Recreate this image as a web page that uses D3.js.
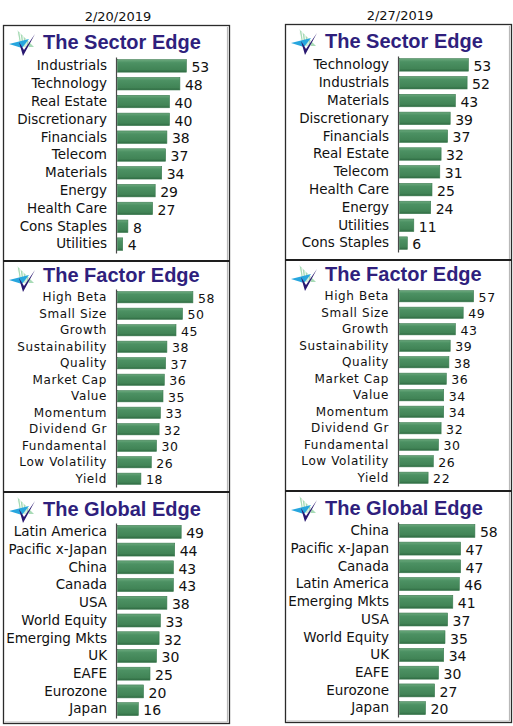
<!DOCTYPE html>
<html>
<head>
<meta charset="utf-8">
<script src="https://cdn.jsdelivr.net/npm/d3@7"></script>
<style>
body { margin:0; background:#fff; }
svg { display:block; }
</style>
</head>
<body>
<div id="chart"></div>
<script>
// chart values
var dates = ["2/20/2019", "2/27/2019"];

var sectorCats1 = ["Industrials","Technology","Real Estate","Discretionary","Financials","Telecom","Materials","Energy","Health Care","Cons Staples","Utilities"];
var sectorVals1 = [53,48,40,40,38,37,34,29,27,8,4];
var sectorCats2 = ["Technology","Industrials","Materials","Discretionary","Financials","Real Estate","Telecom","Health Care","Energy","Utilities","Cons Staples"];
var sectorVals2 = [53,52,43,39,37,32,31,25,24,11,6];

var factorCats1 = ["High Beta","Small Size","Growth","Sustainability","Quality","Market Cap","Value","Momentum","Dividend Gr","Fundamental","Low Volatility","Yield"];
var factorVals1 = [58,50,45,38,37,36,35,33,32,30,26,18];
var factorCats2 = ["High Beta","Small Size","Growth","Sustainability","Quality","Market Cap","Value","Momentum","Dividend Gr","Fundamental","Low Volatility","Yield"];
var factorVals2 = [57,49,43,39,38,36,34,34,32,30,26,22];

var globalCats1 = ["Latin America","Pacific x-Japan","China","Canada","USA","World Equity","Emerging Mkts","UK","EAFE","Eurozone","Japan"];
var globalVals1 = [49,44,43,43,38,33,32,30,25,20,16];
var globalCats2 = ["China","Pacific x-Japan","Canada","Latin America","Emerging Mkts","USA","World Equity","UK","EAFE","Eurozone","Japan"];
var globalVals2 = [58,47,47,46,41,37,35,34,30,27,20];

var titles = ["The Sector Edge","The Factor Edge","The Global Edge"];

var W = 513, H = 726;
var svg = d3.select("#chart").append("svg").attr("width", W).attr("height", H);

var defs = svg.append("defs");
var grad = defs.append("linearGradient").attr("id","barGrad")
	.attr("x1",0).attr("y1",0).attr("x2",0).attr("y2",1);
grad.append("stop").attr("offset","0%").attr("stop-color","#6aa87c");
grad.append("stop").attr("offset","25%").attr("stop-color","#4c9163");
grad.append("stop").attr("offset","80%").attr("stop-color","#418456");
grad.append("stop").attr("offset","100%").attr("stop-color","#2f6a42");

var columns = [
	{ x0: 3,   dy: 0,  date: dates[0], panels: [[sectorCats1,sectorVals1],[factorCats1,factorVals1],[globalCats1,globalVals1]] },
	{ x0: 285, dy: -1, date: dates[1], panels: [[sectorCats2,sectorVals2],[factorCats2,factorVals2],[globalCats2,globalVals2]] }
];

// panel frames: top, bottom, title baseline offset, rows range, label style
var panelDefs = [
	{ top: 25,  bottom: 261, titleY: 24, r0: 57,  r1: 253, fs: 13.5, ls: 0,   pad: 0.3 },
	{ top: 261, bottom: 492, titleY: 21, r0: 289, r1: 487, fs: 12,   ls: 0.6, pad: 0.32 },
	{ top: 492, bottom: 724, titleY: 24, r0: 523, r1: 718, fs: 13.5, ls: 0,   pad: 0.27 }
];

var colW = 226;
var axisOff = 113;   // axis x inside the column
var x = d3.scaleLinear().domain([0, 60]).range([0, 78]);

function drawLogo(g)
{
	g.append("path").attr("d","M12,1 L29,18 L15,18 Z").attr("fill","#a8dbb6");
	for (var i = 0; i < 5; i++) {
		g.append("line")
			.attr("x1", 12 + i*3).attr("y1", 1 + i*3)
			.attr("x2", 15 + i*2).attr("y2", 18)
			.attr("stroke","#fff").attr("stroke-width",1);
	}
	g.append("path").attr("d","M4,15 L24,10 L17,19 Z").attr("fill","#27a6de");
	g.append("path").attr("d","M14,13 L18,27 L30,5 L19,21 Z").attr("fill","#2a1870");
}

columns.forEach(function(col)
{
	var cg = svg.append("g").attr("transform","translate(" + col.x0 + "," + col.dy + ")");

	cg.append("text")
		.attr("x", colW/2 + 2).attr("y", 20.5)
		.attr("text-anchor","middle")
		.style("font-family","DejaVu Sans, Verdana, sans-serif")
		.style("font-size","13px")
		.attr("fill","#111")
		.text(col.date);

	// outer frame + inner grey edge
	cg.append("rect").attr("x",0.5).attr("y",25.5).attr("width",colW).attr("height",698)
		.attr("fill","none").attr("stroke","#2b2b2b").attr("stroke-width",1.3);
	cg.append("line").attr("x1",colW-1.5).attr("x2",colW-1.5).attr("y1",27).attr("y2",722)
		.attr("stroke","#b9b9b9").attr("stroke-width",1.2);
	cg.append("line").attr("x1",2).attr("x2",colW-1.5).attr("y1",722).attr("y2",722)
		.attr("stroke","#b9b9b9").attr("stroke-width",1.2);

	panelDefs.forEach(function(p, pi)
	{
		var cats = col.panels[pi][0], vals = col.panels[pi][1];
		var pg = cg.append("g");

		if (pi > 0) {
			pg.append("line").attr("x1",0).attr("x2",colW+0.5).attr("y1",p.top).attr("y2",p.top)
				.attr("stroke","#1e1e1e").attr("stroke-width",2);
		}

		drawLogo(pg.append("g").attr("transform","translate(2," + (p.top + 4) + ")"));

		pg.append("text")
			.attr("x", 40).attr("y", p.top + p.titleY)
			.style("font-family","Liberation Sans, Arial, sans-serif")
			.style("font-weight","bold")
			.style("font-size","20px")
			.attr("fill","#2f1f7d")
			.text(titles[pi]);

		var y = d3.scaleBand().domain(cats).range([p.r0, p.r1]).paddingInner(p.pad).paddingOuter(p.pad/2);

		var ax = pg.append("g").attr("transform","translate(" + axisOff + ",0)")
			.call(d3.axisLeft(y).tickSize(0).tickPadding(9));
		ax.select(".domain").attr("stroke","#4a4a4a").attr("stroke-width",1.2);
		ax.selectAll("text")
			.style("font-family","DejaVu Sans, Verdana, sans-serif")
			.style("font-size", p.fs + "px")
			.style("letter-spacing", p.ls + "px")
			.attr("fill","#111");

		var bars = pg.append("g").attr("transform","translate(" + (axisOff + 1.5) + ",0)");
		bars.selectAll("rect").data(vals).enter().append("rect")
			.attr("x", 0)
			.attr("y", function(d, i){ return y(cats[i]); })
			.attr("width", function(d){ return x(d); })
			.attr("height", y.bandwidth())
			.attr("fill","url(#barGrad)")
			.attr("stroke","#3a7a4f").attr("stroke-width",0.6);

		bars.selectAll("text").data(vals).enter().append("text")
			.attr("x", function(d){ return x(d) + 5; })
			.attr("y", function(d, i){ return y(cats[i]) + y.bandwidth()/2; })
			.attr("dy","0.45em")
			.style("font-family","DejaVu Sans, Verdana, sans-serif")
			.style("font-size", (p.fs + 0.5) + "px")
			.style("letter-spacing", p.ls + "px")
			.attr("fill","#111")
			.text(function(d){ return d; });
	});
});
</script>
</body>
</html>
